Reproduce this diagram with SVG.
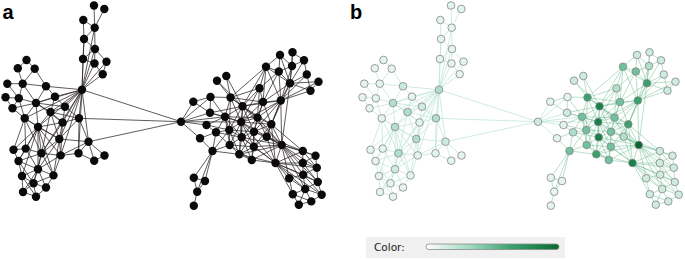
<svg xmlns="http://www.w3.org/2000/svg" xmlns:xlink="http://www.w3.org/1999/xlink" width="685" height="259" viewBox="0 0 685 259">
<style>
.lbl{font-family:"Liberation Sans",Arial,sans-serif;font-weight:bold;font-size:20px;fill:#000}
.na circle{fill:#0a0a0a}
.nb circle{stroke:#858585;stroke-width:0.8}
.k0{fill:#e4f5ef}.k1{fill:#cdebdf}.k2{fill:#b0e0cb}.k3{fill:#6fc29d}.k4{fill:#3aa06c}.k5{fill:#17814b}.k6{fill:#0a6532}
.ea{stroke:#2c2424;stroke-width:0.75;fill:none}
.eb1{stroke:#bfe6d6;stroke-width:0.75;fill:none}
.eb2{stroke:#45aa78;stroke-opacity:0.5;stroke-width:0.75;fill:none}
.cap{font-family:"DejaVu Sans","Liberation Sans",sans-serif;font-size:10.5px;fill:#222}
</style>
<defs>
<linearGradient id="grad" x1="0" y1="0" x2="1" y2="0">
<stop offset="0" stop-color="#ffffff"/><stop offset="0.35" stop-color="#9ad6bc"/><stop offset="0.65" stop-color="#3a9f6c"/><stop offset="1" stop-color="#066a30"/>
</linearGradient>
<g id="E1">
<line x1="26.5" y1="60" x2="17.8" y2="68.3"/><line x1="26.5" y1="60" x2="34.7" y2="68.7"/><line x1="17.8" y1="68.3" x2="22.7" y2="83.7"/><line x1="34.7" y1="68.7" x2="22.7" y2="83.7"/><line x1="34.7" y1="68.7" x2="46" y2="86.3"/>
<line x1="7.3" y1="83.7" x2="22.7" y2="83.7"/><line x1="22.7" y1="83.7" x2="46" y2="86.3"/><line x1="7.3" y1="83.7" x2="18.8" y2="98.3"/><line x1="22.7" y1="83.7" x2="18.8" y2="98.3"/><line x1="22.7" y1="83.7" x2="36" y2="103"/>
<line x1="46" y1="86.3" x2="55" y2="96.7"/><line x1="46" y1="86.3" x2="36" y2="103"/><line x1="46" y1="86.3" x2="82" y2="89.7"/><line x1="5.5" y1="97.3" x2="18.8" y2="98.3"/><line x1="5.5" y1="97.3" x2="12.5" y2="108.3"/>
<line x1="18.8" y1="98.3" x2="36" y2="103"/><line x1="18.8" y1="98.3" x2="12.5" y2="108.3"/><line x1="18.8" y1="98.3" x2="24.7" y2="118.3"/><line x1="55" y1="96.7" x2="36" y2="103"/><line x1="55" y1="96.7" x2="65" y2="106.7"/>
<line x1="55" y1="96.7" x2="50.5" y2="112"/><line x1="55" y1="96.7" x2="82" y2="89.7"/><line x1="36" y1="103" x2="65" y2="106.7"/><line x1="36" y1="103" x2="12.5" y2="108.3"/><line x1="36" y1="103" x2="50.5" y2="112"/>
<line x1="36" y1="103" x2="24.7" y2="118.3"/><line x1="36" y1="103" x2="38" y2="127"/><line x1="36" y1="103" x2="62.5" y2="122.5"/><line x1="36" y1="103" x2="82" y2="89.7"/><line x1="65" y1="106.7" x2="50.5" y2="112"/>
<line x1="65" y1="106.7" x2="62.5" y2="122.5"/><line x1="65" y1="106.7" x2="79" y2="118.3"/><line x1="65" y1="106.7" x2="82" y2="89.7"/><line x1="12.5" y1="108.3" x2="24.7" y2="118.3"/><line x1="50.5" y1="112" x2="62.5" y2="122.5"/>
<line x1="50.5" y1="112" x2="79" y2="118.3"/><line x1="50.5" y1="112" x2="38" y2="127"/><line x1="50.5" y1="112" x2="82" y2="89.7"/><line x1="24.7" y1="118.3" x2="38" y2="127"/><line x1="24.7" y1="118.3" x2="82" y2="89.7"/>
<line x1="62.5" y1="122.5" x2="79" y2="118.3"/><line x1="62.5" y1="122.5" x2="38" y2="127"/><line x1="62.5" y1="122.5" x2="82" y2="89.7"/><line x1="79" y1="118.3" x2="82" y2="89.7"/><line x1="38" y1="127" x2="82" y2="89.7"/>
<line x1="24.7" y1="118.3" x2="59.3" y2="139"/><line x1="38" y1="127" x2="59.3" y2="139"/><line x1="50.5" y1="112" x2="59.3" y2="139"/><line x1="62.5" y1="122.5" x2="59.3" y2="139"/><line x1="79" y1="118.3" x2="59.3" y2="139"/>
<line x1="59.3" y1="139" x2="88.5" y2="141.7"/><line x1="59.3" y1="139" x2="41.5" y2="153.3"/><line x1="59.3" y1="139" x2="60.7" y2="155.4"/><line x1="59.3" y1="139" x2="38" y2="169.2"/><line x1="59.3" y1="139" x2="53.5" y2="175.4"/>
<line x1="59.3" y1="139" x2="82" y2="89.7"/><line x1="38" y1="127" x2="13.5" y2="149.8"/><line x1="38" y1="127" x2="25.7" y2="148.6"/><line x1="38" y1="127" x2="41.5" y2="153.3"/><line x1="38" y1="127" x2="18.5" y2="161"/>
<line x1="38" y1="127" x2="38" y2="169.2"/><line x1="38" y1="127" x2="53.5" y2="175.4"/><line x1="38" y1="127" x2="22" y2="176"/><line x1="38" y1="127" x2="60.7" y2="155.4"/><line x1="24.7" y1="118.3" x2="25.7" y2="148.6"/>
<line x1="24.7" y1="118.3" x2="13.5" y2="149.8"/><line x1="24.7" y1="118.3" x2="41.5" y2="153.3"/><line x1="13.5" y1="149.8" x2="25.7" y2="148.6"/><line x1="13.5" y1="149.8" x2="18.5" y2="161"/><line x1="25.7" y1="148.6" x2="41.5" y2="153.3"/>
<line x1="25.7" y1="148.6" x2="18.5" y2="161"/><line x1="25.7" y1="148.6" x2="38" y2="169.2"/><line x1="41.5" y1="153.3" x2="60.7" y2="155.4"/><line x1="41.5" y1="153.3" x2="18.5" y2="161"/><line x1="41.5" y1="153.3" x2="38" y2="169.2"/>
<line x1="41.5" y1="153.3" x2="53.5" y2="175.4"/><line x1="41.5" y1="153.3" x2="33.5" y2="183.3"/><line x1="60.7" y1="155.4" x2="38" y2="169.2"/><line x1="60.7" y1="155.4" x2="78.5" y2="153.3"/><line x1="60.7" y1="155.4" x2="88.5" y2="141.7"/>
<line x1="78.5" y1="153.3" x2="88.5" y2="141.7"/><line x1="78.5" y1="153.3" x2="94.2" y2="160.7"/><line x1="88.5" y1="141.7" x2="94.2" y2="160.7"/><line x1="88.5" y1="141.7" x2="104.5" y2="155.5"/><line x1="104.5" y1="155.5" x2="94.2" y2="160.7"/>
<line x1="18.5" y1="161" x2="38" y2="169.2"/><line x1="18.5" y1="161" x2="22" y2="176"/><line x1="18.5" y1="161" x2="33.5" y2="183.3"/><line x1="38" y1="169.2" x2="53.5" y2="175.4"/><line x1="38" y1="169.2" x2="22" y2="176"/>
<line x1="38" y1="169.2" x2="33.5" y2="183.3"/><line x1="38" y1="169.2" x2="46" y2="187.5"/><line x1="53.5" y1="175.4" x2="46" y2="187.5"/><line x1="53.5" y1="175.4" x2="33.5" y2="183.3"/><line x1="22" y1="176" x2="33.5" y2="183.3"/>
<line x1="22" y1="176" x2="23" y2="192"/><line x1="33.5" y1="183.3" x2="46" y2="187.5"/><line x1="33.5" y1="183.3" x2="23" y2="192"/><line x1="33.5" y1="183.3" x2="36" y2="196.7"/><line x1="46" y1="187.5" x2="36" y2="196.7"/>
<line x1="23" y1="192" x2="36" y2="196.7"/><line x1="22" y1="176" x2="36" y2="196.7"/><line x1="38" y1="169.2" x2="23" y2="192"/><line x1="79" y1="118.3" x2="88.5" y2="141.7"/><line x1="79" y1="118.3" x2="78.5" y2="153.3"/>
<line x1="82" y1="89.7" x2="88.5" y2="141.7"/><line x1="82" y1="89.7" x2="78.5" y2="153.3"/><line x1="82" y1="89.7" x2="41.5" y2="153.3"/><line x1="82" y1="89.7" x2="60.7" y2="155.4"/><line x1="62.5" y1="122.5" x2="41.5" y2="153.3"/>
<line x1="50.5" y1="112" x2="41.5" y2="153.3"/><line x1="62.5" y1="122.5" x2="60.7" y2="155.4"/><line x1="53.5" y1="175.4" x2="60.7" y2="155.4"/>
<line x1="94" y1="5.5" x2="94.7" y2="27.7"/><line x1="104.3" y1="9" x2="94.7" y2="27.7"/><line x1="83.3" y1="20" x2="94.7" y2="27.7"/><line x1="83.3" y1="20" x2="84" y2="39"/><line x1="94.7" y1="27.7" x2="95" y2="49"/>
<line x1="94.7" y1="27.7" x2="84" y2="39"/><line x1="84" y1="39" x2="95" y2="49"/><line x1="84" y1="39" x2="83" y2="59"/><line x1="95" y1="49" x2="94.5" y2="63.5"/><line x1="95" y1="49" x2="106.5" y2="61.7"/>
<line x1="95" y1="49" x2="83" y2="59"/><line x1="83" y1="59" x2="94.5" y2="63.5"/><line x1="94.5" y1="63.5" x2="102.7" y2="74.2"/><line x1="106.5" y1="61.7" x2="102.7" y2="74.2"/>
<line x1="82" y1="89.7" x2="84" y2="39"/><line x1="82" y1="89.7" x2="95" y2="49"/><line x1="82" y1="89.7" x2="83" y2="59"/><line x1="82" y1="89.7" x2="94.5" y2="63.5"/><line x1="82" y1="89.7" x2="106.5" y2="61.7"/>
<line x1="82" y1="89.7" x2="102.7" y2="74.2"/><line x1="82" y1="89.7" x2="94.7" y2="27.7"/>
<line x1="82" y1="89.7" x2="181" y2="121.7"/><line x1="79" y1="118.3" x2="181" y2="121.7"/><line x1="88.5" y1="141.7" x2="181" y2="121.7"/>
<line x1="181" y1="121.7" x2="193.3" y2="101.7"/><line x1="181" y1="121.7" x2="210" y2="112.8"/><line x1="181" y1="121.7" x2="206.5" y2="125"/><line x1="181" y1="121.7" x2="200" y2="138.3"/><line x1="181" y1="121.7" x2="225" y2="116.8"/>
<line x1="181" y1="121.7" x2="241.2" y2="122"/><line x1="181" y1="121.7" x2="210.5" y2="97"/>
</g>
<g id="E2">
<line x1="280" y1="55" x2="292" y2="66"/><line x1="280" y1="55" x2="278.8" y2="71.5"/><line x1="280" y1="55" x2="266" y2="66.7"/><line x1="292.5" y1="52.3" x2="304" y2="60.3"/><line x1="292.5" y1="52.3" x2="292" y2="66"/>
<line x1="292.5" y1="52.3" x2="290" y2="83.3"/><line x1="304" y1="60.3" x2="292" y2="66"/><line x1="304" y1="60.3" x2="306.8" y2="74.5"/><line x1="304" y1="60.3" x2="290" y2="83.3"/><line x1="292" y1="66" x2="278.8" y2="71.5"/>
<line x1="292" y1="66" x2="290" y2="83.3"/><line x1="292" y1="66" x2="280.8" y2="100.5"/><line x1="266" y1="66.7" x2="278.8" y2="71.5"/><line x1="266" y1="66.7" x2="290" y2="83.3"/><line x1="266" y1="66.7" x2="259.5" y2="88.3"/>
<line x1="266" y1="66.7" x2="263" y2="102"/><line x1="266" y1="66.7" x2="242.5" y2="106.3"/><line x1="266" y1="66.7" x2="230.5" y2="97.5"/><line x1="266" y1="66.7" x2="280.8" y2="100.5"/><line x1="278.8" y1="71.5" x2="290" y2="83.3"/>
<line x1="278.8" y1="71.5" x2="263" y2="102"/><line x1="278.8" y1="71.5" x2="280.8" y2="100.5"/><line x1="278.8" y1="71.5" x2="259.5" y2="88.3"/><line x1="306.8" y1="74.5" x2="290" y2="83.3"/><line x1="306.8" y1="74.5" x2="310.5" y2="90.7"/>
<line x1="306.8" y1="74.5" x2="280.8" y2="100.5"/><line x1="318.5" y1="81.7" x2="290" y2="83.3"/><line x1="318.5" y1="81.7" x2="310.5" y2="90.7"/><line x1="318.5" y1="81.7" x2="280.8" y2="100.5"/><line x1="290" y1="83.3" x2="310.5" y2="90.7"/>
<line x1="290" y1="83.3" x2="280.8" y2="100.5"/><line x1="290" y1="83.3" x2="263" y2="102"/><line x1="290" y1="83.3" x2="281.7" y2="145"/><line x1="290" y1="83.3" x2="271.3" y2="124.3"/><line x1="310.5" y1="90.7" x2="280.8" y2="100.5"/>
<line x1="259.5" y1="88.3" x2="263" y2="102"/><line x1="259.5" y1="88.3" x2="242.5" y2="106.3"/><line x1="259.5" y1="88.3" x2="230.5" y2="97.5"/><line x1="259.5" y1="88.3" x2="257.5" y2="117.6"/><line x1="259.5" y1="88.3" x2="241.2" y2="122"/>
<line x1="280" y1="55" x2="290" y2="83.3"/>
<line x1="217" y1="80.7" x2="230.5" y2="97.5"/><line x1="226.3" y1="76" x2="230.5" y2="97.5"/><line x1="217" y1="80.7" x2="242.5" y2="106.3"/><line x1="226.3" y1="76" x2="242.5" y2="106.3"/><line x1="210.5" y1="97" x2="230.5" y2="97.5"/>
<line x1="210.5" y1="97" x2="193.3" y2="101.7"/><line x1="210.5" y1="97" x2="210" y2="112.8"/><line x1="210.5" y1="97" x2="225" y2="116.8"/><line x1="193.3" y1="101.7" x2="210" y2="112.8"/><line x1="210" y1="112.8" x2="225" y2="116.8"/>
<line x1="210" y1="112.8" x2="241.2" y2="122"/><line x1="210" y1="112.8" x2="242.5" y2="106.3"/><line x1="206.5" y1="125" x2="229.3" y2="130"/><line x1="206.5" y1="125" x2="225" y2="116.8"/><line x1="206.5" y1="125" x2="216" y2="132.3"/>
<line x1="200" y1="138.3" x2="212.5" y2="151"/><line x1="200" y1="138.3" x2="216" y2="132.3"/><line x1="216" y1="132.3" x2="229.3" y2="130"/><line x1="216" y1="132.3" x2="229.7" y2="145"/><line x1="216" y1="132.3" x2="212.5" y2="151"/>
<line x1="216" y1="132.3" x2="241.7" y2="137.3"/><line x1="216" y1="132.3" x2="225" y2="116.8"/><line x1="212.5" y1="151" x2="229.7" y2="145"/><line x1="212.5" y1="151" x2="239.3" y2="154.3"/><line x1="212.5" y1="151" x2="229.3" y2="130"/>
<line x1="212.5" y1="151" x2="193.8" y2="177.7"/><line x1="212.5" y1="151" x2="205" y2="181"/><line x1="212.5" y1="151" x2="197.2" y2="191.7"/><line x1="193.8" y1="177.7" x2="197.2" y2="191.7"/><line x1="205" y1="181" x2="197.2" y2="191.7"/>
<line x1="197.2" y1="191.7" x2="193.8" y2="205.7"/><line x1="193.8" y1="177.7" x2="205" y2="181"/>
<line x1="230.5" y1="97.5" x2="242.5" y2="106.3"/><line x1="230.5" y1="97.5" x2="225" y2="116.8"/><line x1="230.5" y1="97.5" x2="241.2" y2="122"/><line x1="230.5" y1="97.5" x2="263" y2="102"/><line x1="230.5" y1="97.5" x2="257.5" y2="117.6"/>
<line x1="230.5" y1="97.5" x2="229.3" y2="130"/><line x1="263" y1="102" x2="242.5" y2="106.3"/><line x1="263" y1="102" x2="280.8" y2="100.5"/><line x1="263" y1="102" x2="257.5" y2="117.6"/><line x1="263" y1="102" x2="271.3" y2="124.3"/>
<line x1="263" y1="102" x2="241.2" y2="122"/><line x1="263" y1="102" x2="254" y2="131.7"/><line x1="280.8" y1="100.5" x2="242.5" y2="106.3"/><line x1="280.8" y1="100.5" x2="257.5" y2="117.6"/><line x1="280.8" y1="100.5" x2="271.3" y2="124.3"/>
<line x1="280.8" y1="100.5" x2="281.7" y2="145"/><line x1="280.8" y1="100.5" x2="241.2" y2="122"/><line x1="280.8" y1="100.5" x2="254" y2="131.7"/><line x1="280.8" y1="100.5" x2="266.7" y2="136.7"/><line x1="242.5" y1="106.3" x2="225" y2="116.8"/>
<line x1="242.5" y1="106.3" x2="241.2" y2="122"/><line x1="242.5" y1="106.3" x2="257.5" y2="117.6"/><line x1="242.5" y1="106.3" x2="229.3" y2="130"/><line x1="242.5" y1="106.3" x2="241.7" y2="137.3"/><line x1="242.5" y1="106.3" x2="254" y2="131.7"/>
<line x1="242.5" y1="106.3" x2="271.3" y2="124.3"/><line x1="225" y1="116.8" x2="241.2" y2="122"/><line x1="225" y1="116.8" x2="229.3" y2="130"/><line x1="225" y1="116.8" x2="241.7" y2="137.3"/><line x1="225" y1="116.8" x2="229.7" y2="145"/>
<line x1="225" y1="116.8" x2="257.5" y2="117.6"/><line x1="241.2" y1="122" x2="257.5" y2="117.6"/><line x1="241.2" y1="122" x2="229.3" y2="130"/><line x1="241.2" y1="122" x2="254" y2="131.7"/><line x1="241.2" y1="122" x2="241.7" y2="137.3"/>
<line x1="241.2" y1="122" x2="253.8" y2="146.7"/><line x1="241.2" y1="122" x2="271.3" y2="124.3"/><line x1="241.2" y1="122" x2="239.3" y2="154.3"/><line x1="241.2" y1="122" x2="229.7" y2="145"/><line x1="257.5" y1="117.6" x2="271.3" y2="124.3"/>
<line x1="257.5" y1="117.6" x2="254" y2="131.7"/><line x1="257.5" y1="117.6" x2="241.7" y2="137.3"/><line x1="257.5" y1="117.6" x2="266.7" y2="136.7"/><line x1="257.5" y1="117.6" x2="281.7" y2="145"/><line x1="271.3" y1="124.3" x2="254" y2="131.7"/>
<line x1="271.3" y1="124.3" x2="266.7" y2="136.7"/><line x1="271.3" y1="124.3" x2="281.7" y2="145"/><line x1="271.3" y1="124.3" x2="253.8" y2="146.7"/><line x1="271.3" y1="124.3" x2="275.5" y2="163"/><line x1="229.3" y1="130" x2="241.7" y2="137.3"/>
<line x1="229.3" y1="130" x2="229.7" y2="145"/><line x1="229.3" y1="130" x2="254" y2="131.7"/><line x1="229.3" y1="130" x2="239.3" y2="154.3"/><line x1="254" y1="131.7" x2="241.7" y2="137.3"/><line x1="254" y1="131.7" x2="253.8" y2="146.7"/>
<line x1="254" y1="131.7" x2="266.7" y2="136.7"/><line x1="254" y1="131.7" x2="281.7" y2="145"/><line x1="254" y1="131.7" x2="239.3" y2="154.3"/><line x1="254" y1="131.7" x2="251.8" y2="160"/><line x1="241.7" y1="137.3" x2="229.7" y2="145"/>
<line x1="241.7" y1="137.3" x2="253.8" y2="146.7"/><line x1="241.7" y1="137.3" x2="239.3" y2="154.3"/><line x1="241.7" y1="137.3" x2="251.8" y2="160"/><line x1="241.7" y1="137.3" x2="281.7" y2="145"/><line x1="266.7" y1="136.7" x2="281.7" y2="145"/>
<line x1="266.7" y1="136.7" x2="253.8" y2="146.7"/><line x1="266.7" y1="136.7" x2="275.5" y2="163"/><line x1="229.7" y1="145" x2="239.3" y2="154.3"/><line x1="229.7" y1="145" x2="251.8" y2="160"/><line x1="229.7" y1="145" x2="253.8" y2="146.7"/>
<line x1="253.8" y1="146.7" x2="239.3" y2="154.3"/><line x1="253.8" y1="146.7" x2="251.8" y2="160"/><line x1="253.8" y1="146.7" x2="275.5" y2="163"/><line x1="253.8" y1="146.7" x2="281.7" y2="145"/><line x1="281.7" y1="145" x2="275.5" y2="163"/>
<line x1="281.7" y1="145" x2="251.8" y2="160"/><line x1="281.7" y1="145" x2="239.3" y2="154.3"/><line x1="239.3" y1="154.3" x2="251.8" y2="160"/><line x1="239.3" y1="154.3" x2="275.5" y2="163"/><line x1="251.8" y1="160" x2="275.5" y2="163"/>
<line x1="281.7" y1="145" x2="241.2" y2="122"/><line x1="281.7" y1="145" x2="242.5" y2="106.3"/><line x1="275.5" y1="163" x2="241.7" y2="137.3"/><line x1="275.5" y1="163" x2="241.2" y2="122"/>
<line x1="281.7" y1="145" x2="302.8" y2="151"/><line x1="281.7" y1="145" x2="315.5" y2="155.7"/><line x1="281.7" y1="145" x2="302.8" y2="163"/><line x1="281.7" y1="145" x2="316.8" y2="167.7"/><line x1="281.7" y1="145" x2="303.2" y2="174.7"/>
<line x1="281.7" y1="145" x2="317.8" y2="182"/><line x1="281.7" y1="145" x2="289.2" y2="178.3"/><line x1="281.7" y1="145" x2="305.2" y2="189"/><line x1="275.5" y1="163" x2="302.8" y2="163"/><line x1="275.5" y1="163" x2="303.2" y2="174.7"/>
<line x1="275.5" y1="163" x2="289.2" y2="178.3"/><line x1="275.5" y1="163" x2="305.2" y2="189"/><line x1="275.5" y1="163" x2="292.8" y2="194.2"/><line x1="275.5" y1="163" x2="316.8" y2="167.7"/><line x1="275.5" y1="163" x2="302.8" y2="151"/>
<line x1="275.5" y1="163" x2="317.8" y2="182"/><line x1="275.5" y1="163" x2="321.7" y2="194.7"/><line x1="302.8" y1="151" x2="315.5" y2="155.7"/><line x1="302.8" y1="151" x2="302.8" y2="163"/><line x1="302.8" y1="151" x2="316.8" y2="167.7"/>
<line x1="315.5" y1="155.7" x2="316.8" y2="167.7"/><line x1="315.5" y1="155.7" x2="302.8" y2="163"/><line x1="302.8" y1="163" x2="316.8" y2="167.7"/><line x1="302.8" y1="163" x2="303.2" y2="174.7"/><line x1="302.8" y1="163" x2="317.8" y2="182"/>
<line x1="316.8" y1="167.7" x2="317.8" y2="182"/><line x1="316.8" y1="167.7" x2="303.2" y2="174.7"/><line x1="303.2" y1="174.7" x2="289.2" y2="178.3"/><line x1="303.2" y1="174.7" x2="317.8" y2="182"/><line x1="303.2" y1="174.7" x2="305.2" y2="189"/>
<line x1="303.2" y1="174.7" x2="321.7" y2="194.7"/><line x1="289.2" y1="178.3" x2="305.2" y2="189"/><line x1="289.2" y1="178.3" x2="292.8" y2="194.2"/><line x1="317.8" y1="182" x2="305.2" y2="189"/><line x1="317.8" y1="182" x2="321.7" y2="194.7"/>
<line x1="305.2" y1="189" x2="321.7" y2="194.7"/><line x1="305.2" y1="189" x2="311.3" y2="201.4"/><line x1="305.2" y1="189" x2="292.8" y2="194.2"/><line x1="305.2" y1="189" x2="298.8" y2="204.7"/><line x1="292.8" y1="194.2" x2="298.8" y2="204.7"/>
<line x1="321.7" y1="194.7" x2="311.3" y2="201.4"/><line x1="311.3" y1="201.4" x2="298.8" y2="204.7"/><line x1="292.8" y1="194.2" x2="311.3" y2="201.4"/><line x1="271.3" y1="124.3" x2="302.8" y2="151"/><line x1="266.7" y1="136.7" x2="302.8" y2="151"/>
</g>
</defs>
<text class="lbl" x="2.5" y="19">a</text>
<text class="lbl" x="350" y="19">b</text>
<g id="connectors-a" class="ea"><use xlink:href="#E1" href="#E1"/><use xlink:href="#E2" href="#E2"/></g>
<g id="nodes-a" class="na">
<g id="a-H1"><circle cx="82" cy="89.7" r="4.2"/></g><g id="a-C"><circle cx="181" cy="121.7" r="4.2"/></g>
<g id="a-T1"><circle cx="94" cy="5.5" r="4.2"/></g><g id="a-T2"><circle cx="104.3" cy="9" r="4.2"/></g><g id="a-T3"><circle cx="83.3" cy="20" r="4.2"/></g><g id="a-T4"><circle cx="94.7" cy="27.7" r="4.2"/></g><g id="a-T5"><circle cx="84" cy="39" r="4.2"/></g>
<g id="a-T6"><circle cx="95" cy="49" r="4.2"/></g><g id="a-T7"><circle cx="83" cy="59" r="4.2"/></g><g id="a-T8"><circle cx="94.5" cy="63.5" r="4.2"/></g><g id="a-T9"><circle cx="106.5" cy="61.7" r="4.2"/></g><g id="a-T10"><circle cx="102.7" cy="74.2" r="4.2"/></g>
<g id="a-L1"><circle cx="26.5" cy="60" r="4.2"/></g><g id="a-L2"><circle cx="17.8" cy="68.3" r="4.2"/></g><g id="a-L3"><circle cx="34.7" cy="68.7" r="4.2"/></g><g id="a-L4"><circle cx="7.3" cy="83.7" r="4.2"/></g><g id="a-L5"><circle cx="22.7" cy="83.7" r="4.2"/></g>
<g id="a-L6"><circle cx="46" cy="86.3" r="4.2"/></g><g id="a-L7"><circle cx="5.5" cy="97.3" r="4.2"/></g><g id="a-L8"><circle cx="18.8" cy="98.3" r="4.2"/></g><g id="a-L9"><circle cx="55" cy="96.7" r="4.2"/></g><g id="a-L10"><circle cx="36" cy="103" r="4.2"/></g>
<g id="a-L11"><circle cx="65" cy="106.7" r="4.2"/></g><g id="a-L12"><circle cx="12.5" cy="108.3" r="4.2"/></g><g id="a-L13"><circle cx="50.5" cy="112" r="4.2"/></g><g id="a-L14"><circle cx="24.7" cy="118.3" r="4.2"/></g><g id="a-L15"><circle cx="62.5" cy="122.5" r="4.2"/></g>
<g id="a-L16"><circle cx="79" cy="118.3" r="4.2"/></g><g id="a-L17"><circle cx="38" cy="127" r="4.2"/></g><g id="a-L18"><circle cx="59.3" cy="139" r="4.2"/></g><g id="a-L19"><circle cx="88.5" cy="141.7" r="4.2"/></g><g id="a-L20"><circle cx="13.5" cy="149.8" r="4.2"/></g>
<g id="a-L21"><circle cx="25.7" cy="148.6" r="4.2"/></g><g id="a-L22"><circle cx="41.5" cy="153.3" r="4.2"/></g><g id="a-L23"><circle cx="60.7" cy="155.4" r="4.2"/></g><g id="a-L24"><circle cx="78.5" cy="153.3" r="4.2"/></g><g id="a-L25"><circle cx="104.5" cy="155.5" r="4.2"/></g>
<g id="a-L26"><circle cx="94.2" cy="160.7" r="4.2"/></g><g id="a-L27"><circle cx="18.5" cy="161" r="4.2"/></g><g id="a-L28"><circle cx="38" cy="169.2" r="4.2"/></g><g id="a-L29"><circle cx="53.5" cy="175.4" r="4.2"/></g><g id="a-L30"><circle cx="22" cy="176" r="4.2"/></g>
<g id="a-L31"><circle cx="33.5" cy="183.3" r="4.2"/></g><g id="a-L32"><circle cx="46" cy="187.5" r="4.2"/></g><g id="a-L33"><circle cx="23" cy="192" r="4.2"/></g><g id="a-L34"><circle cx="36" cy="196.7" r="4.2"/></g>
<g id="a-R1"><circle cx="280" cy="55" r="4.2"/></g><g id="a-R2"><circle cx="292.5" cy="52.3" r="4.2"/></g><g id="a-R3"><circle cx="304" cy="60.3" r="4.2"/></g><g id="a-R4"><circle cx="292" cy="66" r="4.2"/></g><g id="a-R5"><circle cx="266" cy="66.7" r="4.2"/></g>
<g id="a-R6"><circle cx="278.8" cy="71.5" r="4.2"/></g><g id="a-R7"><circle cx="306.8" cy="74.5" r="4.2"/></g><g id="a-R8"><circle cx="318.5" cy="81.7" r="4.2"/></g><g id="a-R9"><circle cx="290" cy="83.3" r="4.2"/></g><g id="a-R10"><circle cx="310.5" cy="90.7" r="4.2"/></g>
<g id="a-R11"><circle cx="259.5" cy="88.3" r="4.2"/></g><g id="a-R12"><circle cx="217" cy="80.7" r="4.2"/></g><g id="a-R13"><circle cx="226.3" cy="76" r="4.2"/></g><g id="a-R14"><circle cx="210.5" cy="97" r="4.2"/></g><g id="a-R15"><circle cx="230.5" cy="97.5" r="4.2"/></g>
<g id="a-R16"><circle cx="193.3" cy="101.7" r="4.2"/></g><g id="a-R17"><circle cx="263" cy="102" r="4.2"/></g><g id="a-R18"><circle cx="280.8" cy="100.5" r="4.2"/></g><g id="a-R19"><circle cx="242.5" cy="106.3" r="4.2"/></g><g id="a-R20"><circle cx="210" cy="112.8" r="4.2"/></g>
<g id="a-R21"><circle cx="225" cy="116.8" r="4.2"/></g><g id="a-R22"><circle cx="241.2" cy="122" r="4.2"/></g><g id="a-R23"><circle cx="257.5" cy="117.6" r="4.2"/></g><g id="a-R24"><circle cx="271.3" cy="124.3" r="4.2"/></g><g id="a-R25"><circle cx="206.5" cy="125" r="4.2"/></g>
<g id="a-R26"><circle cx="229.3" cy="130" r="4.2"/></g><g id="a-R27"><circle cx="216" cy="132.3" r="4.2"/></g><g id="a-R28"><circle cx="254" cy="131.7" r="4.2"/></g><g id="a-R29"><circle cx="241.7" cy="137.3" r="4.2"/></g><g id="a-R30"><circle cx="266.7" cy="136.7" r="4.2"/></g>
<g id="a-R31"><circle cx="200" cy="138.3" r="4.2"/></g><g id="a-R32"><circle cx="229.7" cy="145" r="4.2"/></g><g id="a-R33"><circle cx="253.8" cy="146.7" r="4.2"/></g><g id="a-R34"><circle cx="281.7" cy="145" r="4.2"/></g><g id="a-R35"><circle cx="212.5" cy="151" r="4.2"/></g>
<g id="a-R36"><circle cx="239.3" cy="154.3" r="4.2"/></g><g id="a-R37"><circle cx="251.8" cy="160" r="4.2"/></g><g id="a-R38"><circle cx="275.5" cy="163" r="4.2"/></g><g id="a-R39"><circle cx="302.8" cy="151" r="4.2"/></g><g id="a-R40"><circle cx="315.5" cy="155.7" r="4.2"/></g>
<g id="a-R41"><circle cx="302.8" cy="163" r="4.2"/></g><g id="a-R42"><circle cx="316.8" cy="167.7" r="4.2"/></g><g id="a-R43"><circle cx="303.2" cy="174.7" r="4.2"/></g><g id="a-R44"><circle cx="289.2" cy="178.3" r="4.2"/></g><g id="a-R45"><circle cx="317.8" cy="182" r="4.2"/></g>
<g id="a-R46"><circle cx="305.2" cy="189" r="4.2"/></g><g id="a-R47"><circle cx="292.8" cy="194.2" r="4.2"/></g><g id="a-R48"><circle cx="321.7" cy="194.7" r="4.2"/></g><g id="a-R49"><circle cx="311.3" cy="201.4" r="4.2"/></g><g id="a-R50"><circle cx="298.8" cy="204.7" r="4.2"/></g>
<g id="a-B1"><circle cx="193.8" cy="177.7" r="4.2"/></g><g id="a-B2"><circle cx="205" cy="181" r="4.2"/></g><g id="a-B3"><circle cx="197.2" cy="191.7" r="4.2"/></g><g id="a-B4"><circle cx="193.8" cy="205.7" r="4.2"/></g>
</g>
<g transform="translate(357 0)">
<g id="connectors-b"><use class="eb1" xlink:href="#E1" href="#E1"/><use class="eb2" xlink:href="#E2" href="#E2"/></g>
<g id="nodes-b" class="nb">
<g id="b-H1"><circle class="k2" cx="82" cy="89.7" r="3.8"/></g><g id="b-C"><circle class="k1" cx="181" cy="121.7" r="3.8"/></g>
<g id="b-T1"><circle class="k0" cx="94" cy="5.5" r="3.8"/></g><g id="b-T2"><circle class="k0" cx="104.3" cy="9" r="3.8"/></g><g id="b-T3"><circle class="k0" cx="83.3" cy="20" r="3.8"/></g><g id="b-T4"><circle class="k0" cx="94.7" cy="27.7" r="3.8"/></g><g id="b-T5"><circle class="k0" cx="84" cy="39" r="3.8"/></g>
<g id="b-T6"><circle class="k0" cx="95" cy="49" r="3.8"/></g><g id="b-T7"><circle class="k0" cx="83" cy="59" r="3.8"/></g><g id="b-T8"><circle class="k0" cx="94.5" cy="63.5" r="3.8"/></g><g id="b-T9"><circle class="k0" cx="106.5" cy="61.7" r="3.8"/></g><g id="b-T10"><circle class="k0" cx="102.7" cy="74.2" r="3.8"/></g>
<g id="b-L1"><circle class="k0" cx="26.5" cy="60" r="3.8"/></g><g id="b-L2"><circle class="k0" cx="17.8" cy="68.3" r="3.8"/></g><g id="b-L3"><circle class="k0" cx="34.7" cy="68.7" r="3.8"/></g><g id="b-L4"><circle class="k0" cx="7.3" cy="83.7" r="3.8"/></g><g id="b-L5"><circle class="k0" cx="22.7" cy="83.7" r="3.8"/></g>
<g id="b-L6"><circle class="k1" cx="46" cy="86.3" r="3.8"/></g><g id="b-L7"><circle class="k0" cx="5.5" cy="97.3" r="3.8"/></g><g id="b-L8"><circle class="k0" cx="18.8" cy="98.3" r="3.8"/></g><g id="b-L9"><circle class="k0" cx="55" cy="96.7" r="3.8"/></g><g id="b-L10"><circle class="k2" cx="36" cy="103" r="3.8"/></g>
<g id="b-L11"><circle class="k1" cx="65" cy="106.7" r="3.8"/></g><g id="b-L12"><circle class="k0" cx="12.5" cy="108.3" r="3.8"/></g><g id="b-L13"><circle class="k2" cx="50.5" cy="112" r="3.8"/></g><g id="b-L14"><circle class="k0" cx="24.7" cy="118.3" r="3.8"/></g><g id="b-L15"><circle class="k0" cx="62.5" cy="122.5" r="3.8"/></g>
<g id="b-L16"><circle class="k2" cx="79" cy="118.3" r="3.8"/></g><g id="b-L17"><circle class="k2" cx="38" cy="127" r="3.8"/></g><g id="b-L18"><circle class="k2" cx="59.3" cy="139" r="3.8"/></g><g id="b-L19"><circle class="k1" cx="88.5" cy="141.7" r="3.8"/></g><g id="b-L20"><circle class="k0" cx="13.5" cy="149.8" r="3.8"/></g>
<g id="b-L21"><circle class="k0" cx="25.7" cy="148.6" r="3.8"/></g><g id="b-L22"><circle class="k2" cx="41.5" cy="153.3" r="3.8"/></g><g id="b-L23"><circle class="k0" cx="60.7" cy="155.4" r="3.8"/></g><g id="b-L24"><circle class="k0" cx="78.5" cy="153.3" r="3.8"/></g><g id="b-L25"><circle class="k0" cx="104.5" cy="155.5" r="3.8"/></g>
<g id="b-L26"><circle class="k0" cx="94.2" cy="160.7" r="3.8"/></g><g id="b-L27"><circle class="k0" cx="18.5" cy="161" r="3.8"/></g><g id="b-L28"><circle class="k1" cx="38" cy="169.2" r="3.8"/></g><g id="b-L29"><circle class="k0" cx="53.5" cy="175.4" r="3.8"/></g><g id="b-L30"><circle class="k0" cx="22" cy="176" r="3.8"/></g>
<g id="b-L31"><circle class="k0" cx="33.5" cy="183.3" r="3.8"/></g><g id="b-L32"><circle class="k0" cx="46" cy="187.5" r="3.8"/></g><g id="b-L33"><circle class="k0" cx="23" cy="192" r="3.8"/></g><g id="b-L34"><circle class="k0" cx="36" cy="196.7" r="3.8"/></g>
<g id="b-R1"><circle class="k1" cx="280" cy="55" r="3.8"/></g><g id="b-R2"><circle class="k1" cx="292.5" cy="52.3" r="3.8"/></g><g id="b-R3"><circle class="k1" cx="304" cy="60.3" r="3.8"/></g><g id="b-R4"><circle class="k2" cx="292" cy="66" r="3.8"/></g><g id="b-R5"><circle class="k3" cx="266" cy="66.7" r="3.8"/></g>
<g id="b-R6"><circle class="k3" cx="278.8" cy="71.5" r="3.8"/></g><g id="b-R7"><circle class="k1" cx="306.8" cy="74.5" r="3.8"/></g><g id="b-R8"><circle class="k1" cx="318.5" cy="81.7" r="3.8"/></g><g id="b-R9"><circle class="k4" cx="290" cy="83.3" r="3.8"/></g><g id="b-R10"><circle class="k1" cx="310.5" cy="90.7" r="3.8"/></g>
<g id="b-R11"><circle class="k2" cx="259.5" cy="88.3" r="3.8"/></g><g id="b-R12"><circle class="k1" cx="217" cy="80.7" r="3.8"/></g><g id="b-R13"><circle class="k1" cx="226.3" cy="76" r="3.8"/></g><g id="b-R14"><circle class="k0" cx="210.5" cy="97" r="3.8"/></g><g id="b-R15"><circle class="k4" cx="230.5" cy="97.5" r="3.8"/></g>
<g id="b-R16"><circle class="k0" cx="193.3" cy="101.7" r="3.8"/></g><g id="b-R17"><circle class="k3" cx="263" cy="102" r="3.8"/></g><g id="b-R18"><circle class="k4" cx="280.8" cy="100.5" r="3.8"/></g><g id="b-R19"><circle class="k5" cx="242.5" cy="106.3" r="3.8"/></g><g id="b-R20"><circle class="k1" cx="210" cy="112.8" r="3.8"/></g>
<g id="b-R21"><circle class="k3" cx="225" cy="116.8" r="3.8"/></g><g id="b-R22"><circle class="k5" cx="241.2" cy="122" r="3.8"/></g><g id="b-R23"><circle class="k3" cx="257.5" cy="117.6" r="3.8"/></g><g id="b-R24"><circle class="k4" cx="271.3" cy="124.3" r="3.8"/></g><g id="b-R25"><circle class="k0" cx="206.5" cy="125" r="3.8"/></g>
<g id="b-R26"><circle class="k3" cx="229.3" cy="130" r="3.8"/></g><g id="b-R27"><circle class="k2" cx="216" cy="132.3" r="3.8"/></g><g id="b-R28"><circle class="k3" cx="254" cy="131.7" r="3.8"/></g><g id="b-R29"><circle class="k5" cx="241.7" cy="137.3" r="3.8"/></g><g id="b-R30"><circle class="k2" cx="266.7" cy="136.7" r="3.8"/></g>
<g id="b-R31"><circle class="k0" cx="200" cy="138.3" r="3.8"/></g><g id="b-R32"><circle class="k3" cx="229.7" cy="145" r="3.8"/></g><g id="b-R33"><circle class="k3" cx="253.8" cy="146.7" r="3.8"/></g><g id="b-R34"><circle class="k6" cx="281.7" cy="145" r="3.8"/></g><g id="b-R35"><circle class="k3" cx="212.5" cy="151" r="3.8"/></g>
<g id="b-R36"><circle class="k4" cx="239.3" cy="154.3" r="3.8"/></g><g id="b-R37"><circle class="k3" cx="251.8" cy="160" r="3.8"/></g><g id="b-R38"><circle class="k5" cx="275.5" cy="163" r="3.8"/></g><g id="b-R39"><circle class="k1" cx="302.8" cy="151" r="3.8"/></g><g id="b-R40"><circle class="k1" cx="315.5" cy="155.7" r="3.8"/></g>
<g id="b-R41"><circle class="k1" cx="302.8" cy="163" r="3.8"/></g><g id="b-R42"><circle class="k1" cx="316.8" cy="167.7" r="3.8"/></g><g id="b-R43"><circle class="k1" cx="303.2" cy="174.7" r="3.8"/></g><g id="b-R44"><circle class="k1" cx="289.2" cy="178.3" r="3.8"/></g><g id="b-R45"><circle class="k1" cx="317.8" cy="182" r="3.8"/></g>
<g id="b-R46"><circle class="k1" cx="305.2" cy="189" r="3.8"/></g><g id="b-R47"><circle class="k1" cx="292.8" cy="194.2" r="3.8"/></g><g id="b-R48"><circle class="k1" cx="321.7" cy="194.7" r="3.8"/></g><g id="b-R49"><circle class="k1" cx="311.3" cy="201.4" r="3.8"/></g><g id="b-R50"><circle class="k1" cx="298.8" cy="204.7" r="3.8"/></g>
<g id="b-B1"><circle class="k0" cx="193.8" cy="177.7" r="3.8"/></g><g id="b-B2"><circle class="k0" cx="205" cy="181" r="3.8"/></g><g id="b-B3"><circle class="k0" cx="197.2" cy="191.7" r="3.8"/></g><g id="b-B4"><circle class="k0" cx="193.8" cy="205.7" r="3.8"/></g>
</g>
</g>
<g id="legend">
<rect x="366" y="237" width="199" height="21" fill="#f0f0f0"/>
<text class="cap" x="374" y="251">Color:</text>
<rect x="426" y="244" width="133" height="5.5" rx="2.75" fill="url(#grad)" stroke="#8a8a8a" stroke-width="0.8"/>
</g>
</svg>
